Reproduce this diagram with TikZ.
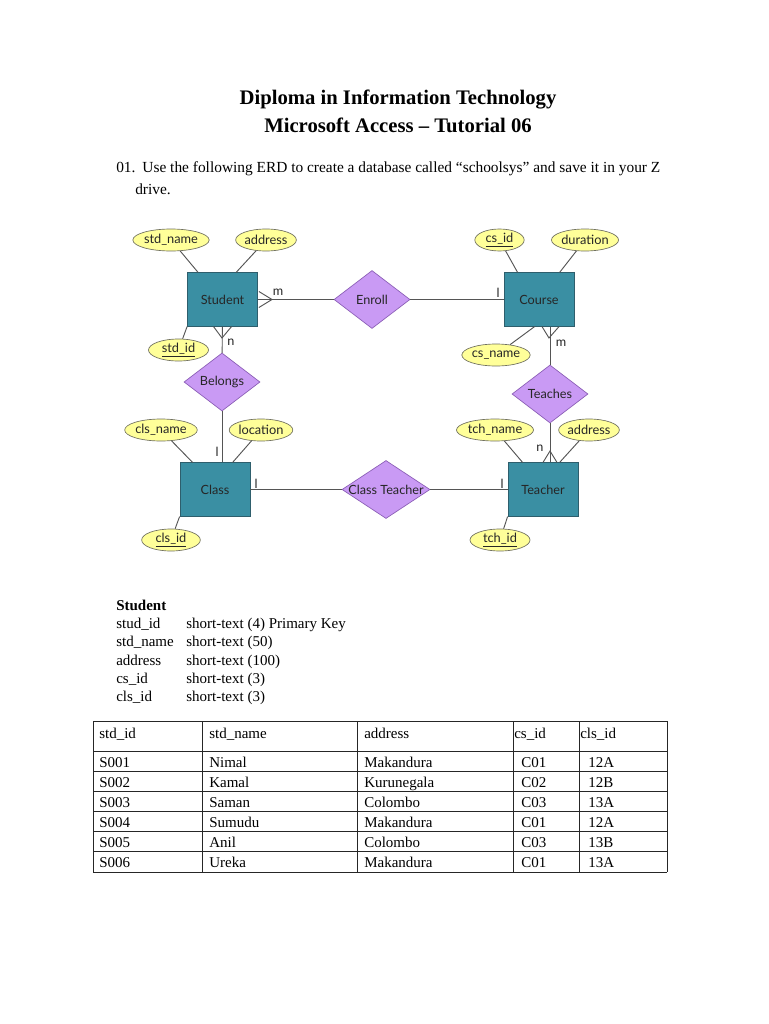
\documentclass[tikz,border=0pt]{standalone}
\usepackage{fontspec}
\setmainfont{Liberation Serif}
\newfontfamily\erdfont{Lato}
\usetikzlibrary{shapes.geometric,calc}
\definecolor{entfill}{HTML}{3A8FA3}
\definecolor{entdraw}{HTML}{2E5E6C}
\definecolor{attfill}{HTML}{FFFF99}
\definecolor{attdraw}{HTML}{707060}
\definecolor{relfill}{HTML}{C99AF4}
\definecolor{reldraw}{HTML}{8A5DB5}
\definecolor{lnk}{HTML}{555555}
\tikzset{
  entity/.style={rectangle, fill=entfill, draw=entdraw, line width=0.6pt, minimum width=52.5pt, minimum height=40pt, inner sep=0pt, font=\erdfont\fontsize{9.5}{11}\selectfont, text=black!85},
  attr/.style={ellipse, fill=attfill, draw=attdraw, line width=0.5pt, minimum height=16.5pt, inner xsep=0pt, inner ysep=0pt, font=\erdfont\fontsize{9.6}{11}\selectfont, text=black!85},
  rel/.style={diamond, fill=relfill, draw=reldraw, line width=0.5pt, minimum width=57pt, minimum height=43.5pt, inner sep=0pt, font=\erdfont\fontsize{9.5}{11}\selectfont, text=black!85},
  link/.style={draw=lnk, line width=0.7pt},
  card/.style={inner sep=0pt, font=\erdfont\fontsize{9.5}{11}\selectfont, text=black!85},
  body/.style={inner sep=0pt, font=\fontsize{11.25}{13.5}\selectfont},
  cell/.style={inner sep=0pt, anchor=base west, font=\fontsize{11.25}{13.5}\selectfont},
  tline/.style={draw=black!85, line width=0.7pt}
}
\begin{document}
\begin{tikzpicture}[x=0.75pt,y=-0.75pt]
\useasboundingbox[fill=white] (0,0) rectangle (768,1024);

% title
\node[font=\bfseries\fontsize{15.5}{18}\selectfont, inner sep=0pt] (t1) at (398,100) {Diploma in Information Technology};
\node[font=\bfseries\fontsize{15.5}{18}\selectfont, inner sep=0pt] (t2) at (398,125) {Microsoft Access -- Tutorial 06};
\node[body, anchor=base west, font=\fontsize{11.55}{13.5}\selectfont] (q1) at (116,172) {01.\hspace{0.45em}Use the following ERD to create a database called ``schoolsys'' and save it in your Z};
\node[body, anchor=base west, font=\fontsize{11.55}{13.5}\selectfont] (q2) at (135,194) {drive.};

% entities
\node[entity] (student) at (222.5,299.5) {Student};
\node[entity] (course) at (539,299.5) {Course};
\node[entity] (class) at (215,489.5) {Class};
\node[entity] (teacher) at (543,489.5) {Teacher};

% relationships
\node[rel] (enroll) at (372,299.5) {\makebox[0pt]{Enroll}};
\node[rel] (belongs) at (222,382) {\makebox[0pt]{Belongs}};
\node[rel] (teaches) at (550,394) {\makebox[0pt]{Teaches}};
\node[rel, minimum width=66pt] (classteacher) at (386,489.5) {\makebox[0pt]{Class Teacher}};

% attributes
\node[attr, minimum width=57pt] (stdname) at (171,240) {std\_name};
\node[attr, minimum width=45pt] (saddr) at (266,240) {address};
\node[attr, minimum width=45pt] (stdid) at (178.5,350) {\underline{std\_id}};
\node[attr, minimum width=37pt] (csid) at (499.5,240) {\underline{cs\_id}};
\node[attr, minimum width=46pt] (duration) at (585,240) {duration};
\node[attr, minimum width=45pt] (csname) at (496,355) {cs\_name};
\node[attr, minimum width=53pt] (clsname) at (161,430) {cls\_name};
\node[attr, minimum width=46pt] (location) at (261,430) {location};
\node[attr, minimum width=44pt] (clsid) at (171,540) {\underline{cls\_id}};
\node[attr, minimum width=50pt] (tchname) at (495,430) {tch\_name};
\node[attr, minimum width=45pt] (taddr) at (589,430) {address};
\node[attr, minimum width=45pt] (tchid) at (500,540) {\underline{tch\_id}};

% attribute links
\draw[link] (stdname) -- ($(student.north west)+(11,0)$);
\draw[link] (saddr) -- ($(student.north west)+(49,0)$);
\draw[link] (stdid) -- (student.south west);
\draw[link] (csid) -- ($(course.north west)+(14,0)$);
\draw[link] (duration) -- ($(course.north west)+(56,0)$);
\draw[link] (csname) -- ($(course.south west)+(31,0)$);
\draw[link] (clsname) -- ($(class.north west)+(13,0)$);
\draw[link] (location) -- ($(class.north west)+(53,0)$);
\draw[link] (clsid) -- (class.south west);
\draw[link] (tchname) -- ($(teacher.north west)+(15,0)$);
\draw[link] (taddr) -- ($(teacher.north west)+(52,0)$);
\draw[link] (tchid) -- (teacher.south west);

% relationship links
\draw[link] (student) -- (enroll);
\draw[link] (enroll) -- (course);
\draw[link] (student) -- (belongs);
\draw[link] (belongs.south) -- (belongs.south |- class.north);
\draw[link] (class) -- (classteacher);
\draw[link] (classteacher) -- (teacher);
\draw[link] (teaches.north |- course.south) -- (teaches.north);
\draw[link] (teaches.south) -- (teaches.south |- teacher.north);

% crow's feet
\coordinate (cf1) at (272,299.5);
\draw[link] ($(student.east)+(1,-8)$) -- (cf1) -- ($(student.east)+(1,8)$);
\coordinate (cf2) at (222,338);
\draw[link] ($(student.south)+(-9,0)$) -- (cf2) -- ($(student.south)+(9,0)$);
\coordinate (cf3) at (549,338);
\draw[link] ($(course.south)+(3,0)$) -- (cf3) -- ($(course.south)+(20,0)$);
\coordinate (cf4) at (550,451);
\draw[link] ($(teacher.north)+(0,0)$) -- (cf4) -- ($(teacher.north)+(14,0)$);

% cardinalities
\node[card] (c1) at (278,292) {m};
\node[card] (c2) at (498,293) {l};
\node[card] (c3) at (231,342) {n};
\node[card] (c4) at (561,343) {m};
\node[card] (c5) at (217,452) {l};
\node[card] (c6) at (256,484) {l};
\node[card] (c7) at (502,484) {l};
\node[card] (c8) at (540,448) {n};

% schema
\node[body, anchor=base west, font=\bfseries\fontsize{11.25}{13.5}\selectfont] (sh) at (116,610) {Student};
\node[body, anchor=base west] (s1a) at (116,628) {stud\_id};
\node[body, anchor=base west] (s1b) at (186,628) {short-text (4) Primary Key};
\node[body, anchor=base west] (s2a) at (116,646) {std\_name};
\node[body, anchor=base west] (s2b) at (186,646) {short-text (50)};
\node[body, anchor=base west] (s3a) at (116,665) {address};
\node[body, anchor=base west] (s3b) at (186,665) {short-text (100)};
\node[body, anchor=base west] (s4a) at (116,683) {cs\_id};
\node[body, anchor=base west] (s4b) at (186,683) {short-text (3)};
\node[body, anchor=base west] (s5a) at (116,701) {cls\_id};
\node[body, anchor=base west] (s5b) at (186,701) {short-text (3)};

% table
\foreach \y in {721,751,771.2,791.3,811.5,831.7,851.8,872} {\draw[tline] (93,\y) -- (667,\y);}
\foreach \x in {93,202,357,513,579,667} {\draw[tline] (\x,721) -- (\x,872);}
\node[cell] (h1) at (99,738) {std\_id};
\node[cell] (h2) at (209,738) {std\_name};
\node[cell] (h3) at (364,738) {address};
\node[cell] (h4) at (514,738) {cs\_id};
\node[cell] (h5) at (580,738) {cls\_id};
\foreach \r/\a/\b/\c/\d/\e in {0/S001/Nimal/Makandura/C01/12A,1/S002/Kamal/Kurunegala/C02/12B,2/S003/Saman/Colombo/C03/13A,3/S004/Sumudu/Makandura/C01/12A,4/S005/Anil/Colombo/C03/13B,5/S006/Ureka/Makandura/C01/13A}{
  \node[cell] (r\r a) at (99,{767+20.17*\r}) {\a};
  \node[cell] (r\r b) at (209,{767+20.17*\r}) {\b};
  \node[cell] (r\r c) at (364,{767+20.17*\r}) {\c};
  \node[cell] (r\r d) at (521,{767+20.17*\r}) {\d};
  \node[cell] (r\r e) at (588,{767+20.17*\r}) {\e};
}
\end{tikzpicture}
\end{document}
